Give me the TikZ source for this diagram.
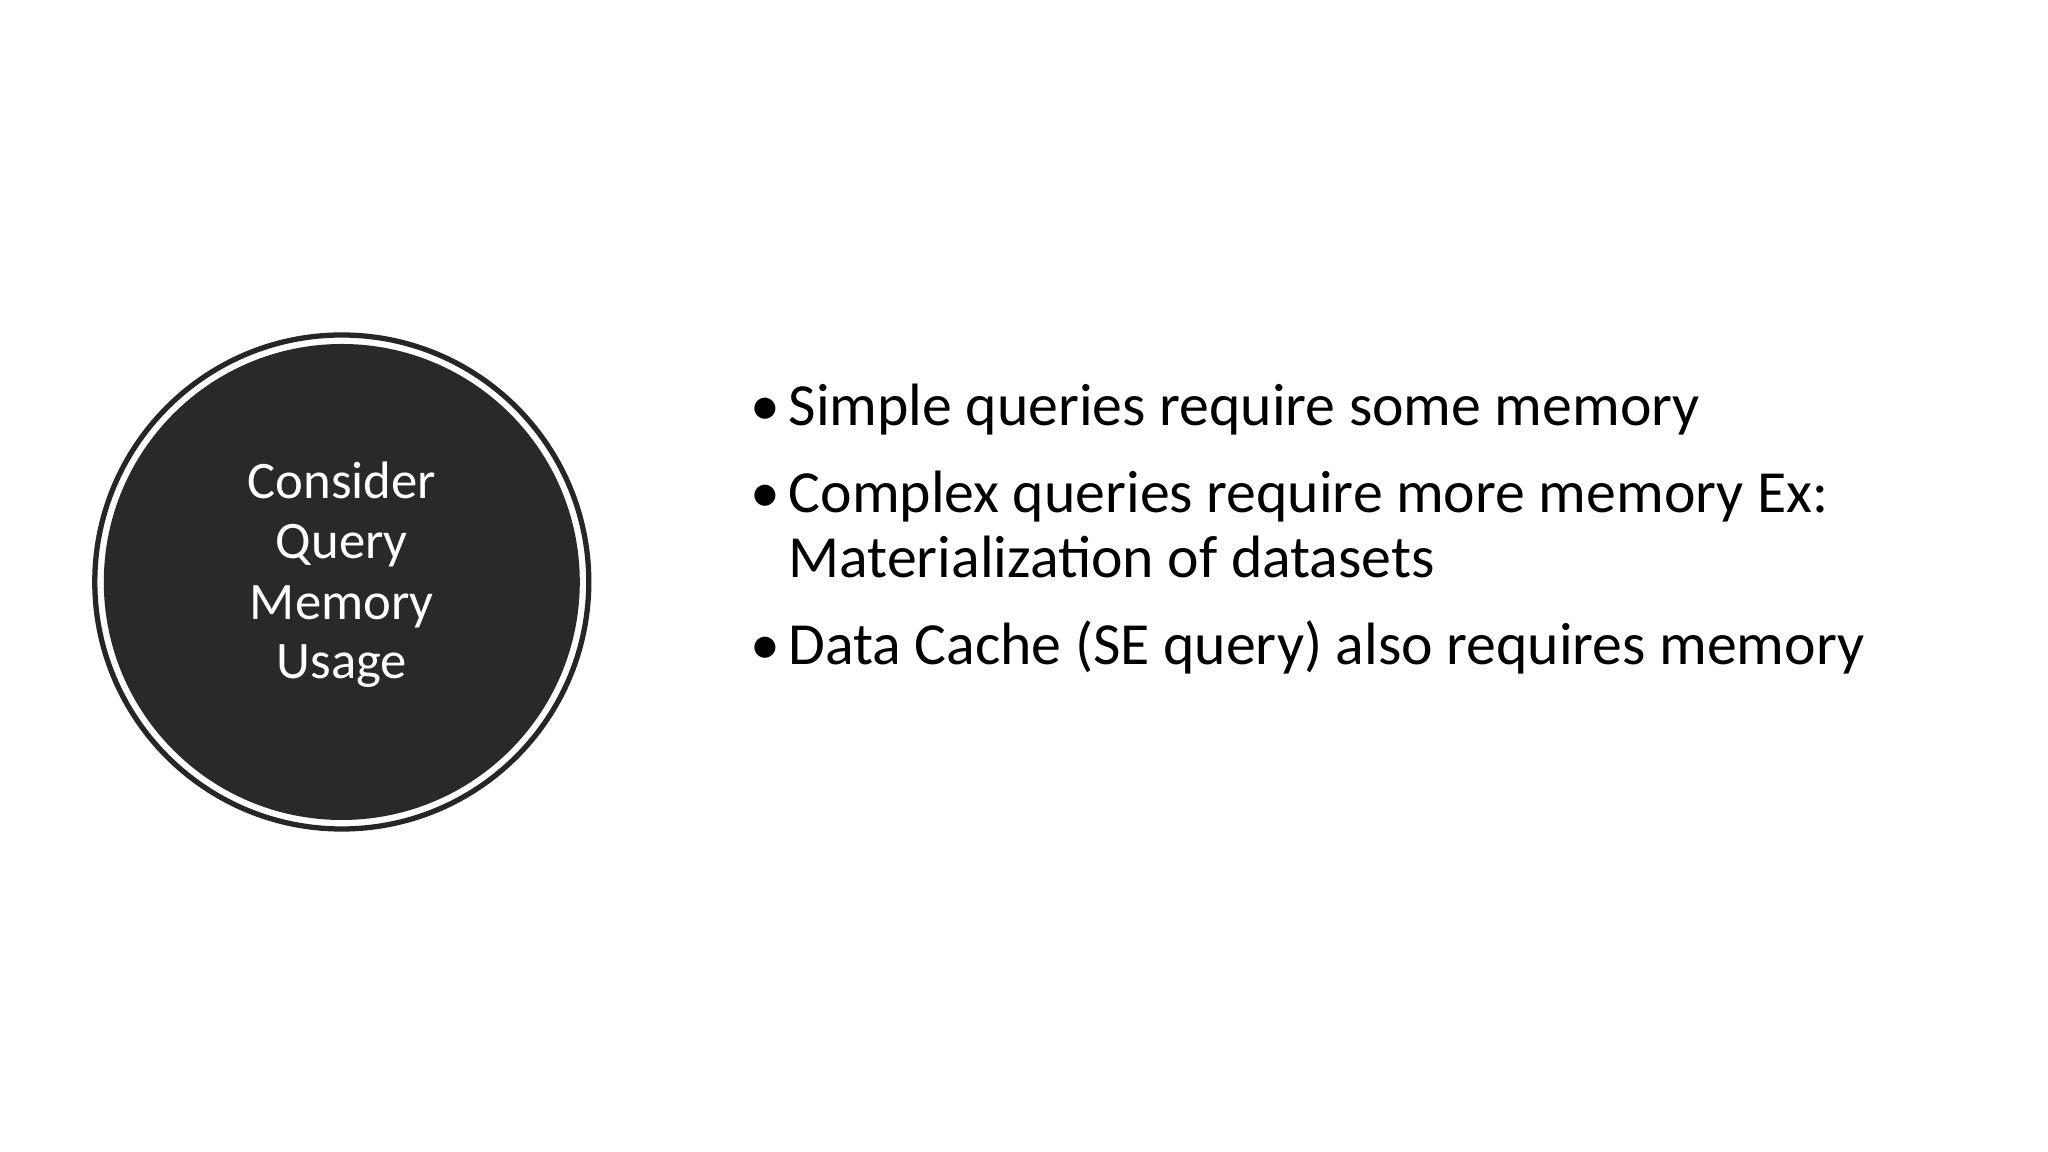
\documentclass[tikz,border=0pt]{standalone}
\usepackage{fontspec}
\setmainfont{Carlito}
\begin{document}
\begin{tikzpicture}[x=1cm,y=1cm,
  ctext/.style={text=white,font=\fontsize{15}{18}\selectfont,anchor=mid},
  btext/.style={anchor=mid west,font=\fontsize{17}{20}\selectfont,text=black,inner sep=0pt}]
\useasboundingbox[fill=white] (0,0) rectangle (20.48,11.52);
\node[circle,draw=black!85,line width=1.5pt,minimum size=4.94cm] (ring) at (3.418,5.70) {};
\node[circle,fill=black!84,minimum size=4.76cm] (disc) at (3.418,5.70) {};
\node[ctext] (c1) at (3.418,6.62) {Consider};
\node[ctext] (c2) at (3.418,6.02) {Query};
\node[ctext] (c3) at (3.418,5.41) {Memory};
\node[ctext] (c4) at (3.418,4.82) {Usage};
\node[btext] (b1) at (7.50,7.35) {•};
\node[btext] (t1) at (7.88,7.35) {Simple queries require some memory};
\node[btext] (b2) at (7.50,6.48) {•};
\node[btext] (t2) at (7.88,6.48) {Complex queries require more memory Ex:};
\node[btext] (t3) at (7.88,5.83) {Materialization of datasets};
\node[btext] (b3) at (7.50,4.96) {•};
\node[btext] (t4) at (7.88,4.96) {Data Cache (SE query) also requires memory};
\end{tikzpicture}
\end{document}
